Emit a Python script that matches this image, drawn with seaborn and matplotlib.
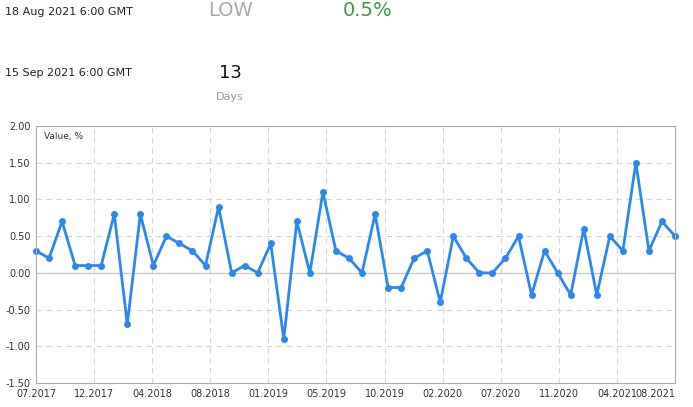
import matplotlib
matplotlib.use("Agg")
import matplotlib.pyplot as plt
import seaborn as sns
import numpy as np
import pandas as pd

values = [0.3, 0.2, 0.7, 0.1, 0.1, 0.1, 0.8, -0.7, 0.8, 0.1, 0.5, 0.4, 0.3, 0.1, 0.9, 0.0, 0.1, 0.0, 0.4, -0.9,
          0.7, 0.0, 1.1, 0.3, 0.2, 0.0, 0.8, -0.2, -0.2, 0.2, 0.3, -0.4, 0.5, 0.2, 0.0, 0.0, 0.2, 0.5, -0.3, 0.3,
          0.0, -0.3, 0.6, -0.3, 0.5, 0.3, 1.5, 0.3, 0.7, 0.5]
tick_labels = ["07.2017", "12.2017", "04.2018", "08.2018", "01.2019", "05.2019", "10.2019", "02.2020",
               "07.2020", "11.2020", "04.2021", "08.2021"]
y_ticks = [-1.5, -1.0, -0.5, 0.0, 0.5, 1.0, 1.5, 2.0]

df = pd.DataFrame({"i": np.arange(len(values)), "v": values})

sns.set_style("white")
plt.rcParams['font.family'] = ['DejaVu Sans']
fig = plt.figure(figsize=(6.93, 4.07), dpi=100)
ax = fig.add_axes([36/693, 24/407, 639/693, 257/407])
color = "#2E86F0"
sns.lineplot(data=df, x="i", y="v", ax=ax, color=color, lw=2, marker="o", markersize=5,
             markeredgewidth=0, clip_on=False)
n = len(values) - 1
ax.set_xlim(0, n)
ax.set_ylim(-1.5, 2.0)
ax.set_xticks(np.linspace(0, n, len(tick_labels)))
ax.set_xticklabels(tick_labels, fontsize=7, color="#333333")
labs = ax.get_xticklabels()
labs[-1].set_horizontalalignment("right")
labs[-1].set_x(n + 0.3)
ax.set_yticks(y_ticks)
ax.set_yticklabels([f"{t:.2f}" for t in y_ticks], fontsize=7, color="#333333")
ax.tick_params(length=0, pad=4)
ax.grid(True, ls=(0, (5, 4)), color="#d5d5d5", lw=0.8)
ax.axhline(0, color="#cccccc", lw=1, zorder=1)
ax.set_xlabel(""); ax.set_ylabel("")
for s in ax.spines.values():
    s.set_color("#aaaaaa")
ax.text(0.012, 0.975, "Value, %", transform=ax.transAxes, fontsize=6.5, va="top", color="#333333")

fig.text(5/693, 1-12/407, "18 Aug 2021 6:00 GMT", fontsize=8, va="center", color="#222222")
fig.text(230/693, 1-10/407, "LOW", fontsize=14, va="center", ha="center", color="#aaaaaa")
fig.text(368/693, 1-10/407, "0.5%", fontsize=14, va="center", ha="center", color="#3a9a48")
fig.text(5/693, 1-73/407, "15 Sep 2021 6:00 GMT", fontsize=8, va="center", color="#222222")
fig.text(230/693, 1-73/407, "13", fontsize=13, va="center", ha="center", color="#111111")
fig.text(230/693, 1-97/407, "Days", fontsize=8, va="center", ha="center", color="#999999")

fig.savefig("out.png", dpi=100)
